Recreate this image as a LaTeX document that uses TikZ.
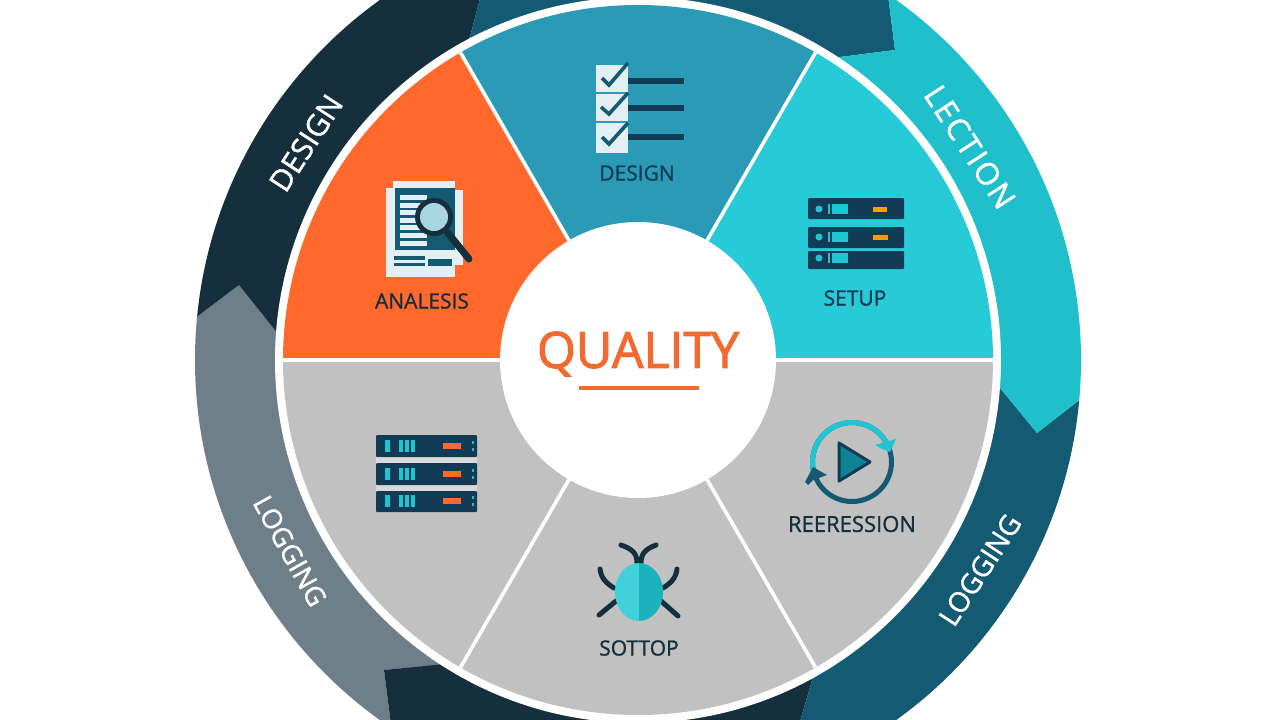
\documentclass[tikz,border=0pt]{standalone}
\usepackage{fontspec}
\setmainfont{Open Sans}
\newfontfamily\medfont[FakeBold=1.2]{Open Sans}
\newfontfamily\heavyfont[FakeBold=2]{Open Sans}
\newfontfamily\widefont[FakeBold=1.2,LetterSpace=7]{Open Sans}
\definecolor{navy}{HTML}{15303C}
\definecolor{teal}{HTML}{135A72}
\definecolor{cyanring}{HTML}{1FBFCB}
\definecolor{grayring}{HTML}{6F7F89}
\definecolor{secorange}{HTML}{FF6A2C}
\definecolor{secblue}{HTML}{2A9AB7}
\definecolor{seccyan}{HTML}{27CBD7}
\definecolor{secgray}{HTML}{C1C1C1}
\definecolor{inkdark}{HTML}{123C55}
\definecolor{inkcyan}{HTML}{1FC6D2}
\definecolor{pale}{HTML}{E2F0F4}
\definecolor{lens}{HTML}{A8D5E2}
\definecolor{qorange}{HTML}{F26A30}
\tikzset{
 ringtext/.style={text=white,inner sep=0pt},
 seclabel/.style={font=\medfont\fontsize{21}{21}\selectfont,inner sep=0pt},
 srvbar/.style={fill=inkdark,rounded corners=1pt},
 checkbox/.style={fill=pale},
 checkrule/.style={inkdark,line width=6pt},
 checktick/.style={draw=teal,line width=3.6pt},
 bugleg/.style={draw=navy,line width=5pt,line cap=round},
 divider/.style={draw=white,line width=3.6pt}
}
\begin{document}
\begin{tikzpicture}[x=1pt,y=-1pt]
\useasboundingbox (0,0) rectangle (1280,720);
\fill[white] (0,0) rectangle (1280,720);
\coordinate (C) at (638,360);
% outer ring
\begin{scope}
\clip (0,0) rectangle (1280,720);
\clip (C) circle (443pt);
\fill[grayring] (170,337) -- (239,285) -- (290,349) -- (500,500) -- (440,665) -- (384,670) -- (391,725) -- (100,725) -- cycle;
\fill[navy] (170,337) -- (239,285) -- (290,349) -- (470,37) -- (481,-5) -- (100,-5) -- (100,337) -- cycle;
\fill[navy] (384,670) -- (445,664) -- (600,600) -- (813,677) -- (799,725) -- (391,725) -- cycle;
\fill[teal] (470,37) -- (481,-5) -- (888,-5) -- (895,50) -- (840,57) -- (638,200) -- cycle;
\fill[teal] (1000,388) -- (1037,433) -- (1100,384) -- (1130,725) -- (799,725) -- (813,677) -- (700,600) -- cycle;
\fill[cyanring] (888,-5) -- (895,50) -- (840,57) -- (800,200) -- (1000,388) -- (1037,433) -- (1100,384) -- (1130,-5) -- cycle;
\end{scope}
\fill[white] (C) circle (363pt);
% sectors
\begin{scope}
\clip (C) circle (355pt);
\fill[secgray] (200,360) rectangle (1100,730);
\fill[secorange] (C) -- (338,-160) -- (100,-160) -- (100,360) -- cycle;
\fill[secblue] (C) -- (338,-160) -- (938,-160) -- cycle;
\fill[seccyan] (C) -- (938,-160) -- (1200,-160) -- (1200,360) -- cycle;
\draw[divider] (100,360) -- (1200,360);
\draw[divider] (C) -- ++(-177.5,-307.4);
\draw[divider] (C) -- ++(177.5,-307.4);
\draw[divider] (C) -- ++(-177.5,307.4);
\draw[divider] (C) -- ++(177.5,307.4);
\end{scope}
\fill[white] (C) circle (138pt);
% ring labels
\node[ringtext,rotate=57,font=\medfont\fontsize{30}{30}\selectfont] (ringDesign) at (306,143) {DESIGN};
\node[ringtext,rotate=-57,font=\widefont\fontsize{31}{31}\selectfont] (ringLection) at (970,147) {LECTION};
\node[ringtext,rotate=-61,font=\medfont\fontsize{27}{27}\selectfont] (ringLogL) at (290,551) {LOGGING};
\node[ringtext,rotate=57,font=\medfont\fontsize{28}{28}\selectfont] (ringLogR) at (980,570) {LOGGING};
% centre
\node[text=qorange,font=\heavyfont\fontsize{50}{50}\selectfont,inner sep=0pt] (quality) at (638,354) {QUALITY};
\fill[qorange] (579,386) rectangle (699,390);
% sector labels
\node[seclabel,text=navy] (lblAnalysis) at (422,301) {ANALESIS};
\node[seclabel,text=inkdark] (lblDesign) at (637,173) {DESIGN};
\node[seclabel,text=inkdark] (lblSetup) at (855,298) {SETUP};
\node[seclabel,text=navy,font=\medfont\fontsize{22}{22}\selectfont] (lblRegr) at (852,524) {REERESSION};
\node[seclabel,text=navy] (lblBug) at (639,648) {SOTTOP};
% checklist icon
\fill[checkbox] (596,65) rectangle (628,92);
\fill[checkbox] (596,94) rectangle (628,121);
\fill[checkbox] (596,123) rectangle (628,153);
\draw[checkrule] (628,81) -- (684,81);
\draw[checkrule] (628,108) -- (684,108);
\draw[checkrule] (628,137) -- (684,137);
\draw[checktick] (602,78) -- (609,85) -- (628,63);
\draw[checktick] (601,107) -- (609,114) -- (628,93);
\draw[checktick] (602,137) -- (609,144) -- (628,123);
% analysis icon
\fill[pale] (393,181) rectangle (455,190);
\fill[pale] (386,188) rectangle (455,277);
\fill[pale] (455,190) rectangle (463,265);
\fill[teal] (395,188) rectangle (455,250);
\foreach \yy in {195,203,210,218,225,233,241}
  \fill[pale] (400,\yy) rectangle (427,\yy+5);
\fill[teal] (394,256) rectangle (425,260);
\fill[teal] (394,263) rectangle (425,266);
\fill[teal] (428,259) rectangle (452,266);
\draw[navy,line width=7pt,line cap=round] (448,233) -- (469,259);
\fill[navy] (434,217) circle (19pt);
\fill[lens] (434,217) circle (14pt);
% setup server icon
\fill[srvbar] (808,198) rectangle (904,219);
\fill[srvbar] (808,227) rectangle (904,248);
\fill[srvbar] (808,251) rectangle (904,269);
\foreach \yy in {209,237,258} {
  \fill[inkcyan] (819,\yy) circle (3.5pt);
  \fill[inkcyan] (828,\yy-5) rectangle (830,\yy+5);
  \fill[inkcyan] (832,\yy-5) rectangle (848,\yy+5);
}
\fill[orange!80!yellow] (873,207) rectangle (887,212);
\fill[orange!80!yellow] (873,235) rectangle (888,240);
% logging server icon
\fill[secgray!60!white] (376,456) rectangle (477,464);
\fill[secgray!60!white] (376,484) rectangle (477,492);
\fill[srvbar] (376,435) rectangle (477,457);
\fill[srvbar] (376,463) rectangle (477,485);
\fill[srvbar] (376,491) rectangle (477,512);
\foreach \yy in {446,474,501} {
  \fill[inkcyan] (385,\yy-6) rectangle (390,\yy+6);
  \fill[inkcyan] (399,\yy-6) rectangle (403,\yy+6);
  \fill[inkcyan] (405,\yy-6) rectangle (409,\yy+6);
  \fill[inkcyan] (411,\yy-6) rectangle (415,\yy+6);
  \fill[secorange] (443,\yy-3) rectangle (461,\yy+3);
  \fill[inkcyan!70!gray] (472,\yy-5) rectangle (474,\yy-2);
  \fill[inkcyan!70!gray] (472,\yy+2) rectangle (474,\yy+5);
}
% regression icon
\draw[teal,line width=5pt] (852,462) circle (39.5pt);
\begin{scope}
\clip (852,462) -- (772,483) -- (772,380) -- (932,380) -- (932,425) -- cycle;
\draw[inkcyan,line width=5pt] (852,462) circle (39.5pt);
\end{scope}
\fill[inkcyan] (875,445) -- (896,439) -- (890,452) -- (880,448) -- cycle;
\fill[teal] (805,482) -- (813,467) -- (827,475) -- (813,480) -- (808,485) -- cycle;
\draw[fill=teal!75!cyan,draw=inkdark,line width=3pt,line join=round] (839,443) -- (839,481) -- (870,462) -- cycle;
% bug icon
\draw[bugleg] (621,545) .. controls (632,549) and (637,553) .. (637,563);
\draw[bugleg] (656,545) .. controls (646,549) and (641,553) .. (641,563);
\draw[bugleg] (600,569) .. controls (601,578) and (606,583) .. (614,588);
\draw[bugleg] (677,569) .. controls (676,578) and (671,583) .. (663,588);
\draw[bugleg] (599,615) -- (616,601);
\draw[bugleg] (678,616) -- (661,601);
\begin{scope}
\clip (600,550) rectangle (639,630);
\fill[inkcyan!85!white] (639,592) ellipse[x radius=24pt,y radius=29pt];
\end{scope}
\begin{scope}
\clip (639,550) rectangle (680,630);
\fill[inkcyan!90!black] (639,592) ellipse[x radius=24pt,y radius=29pt];
\end{scope}
\end{tikzpicture}
\end{document}
